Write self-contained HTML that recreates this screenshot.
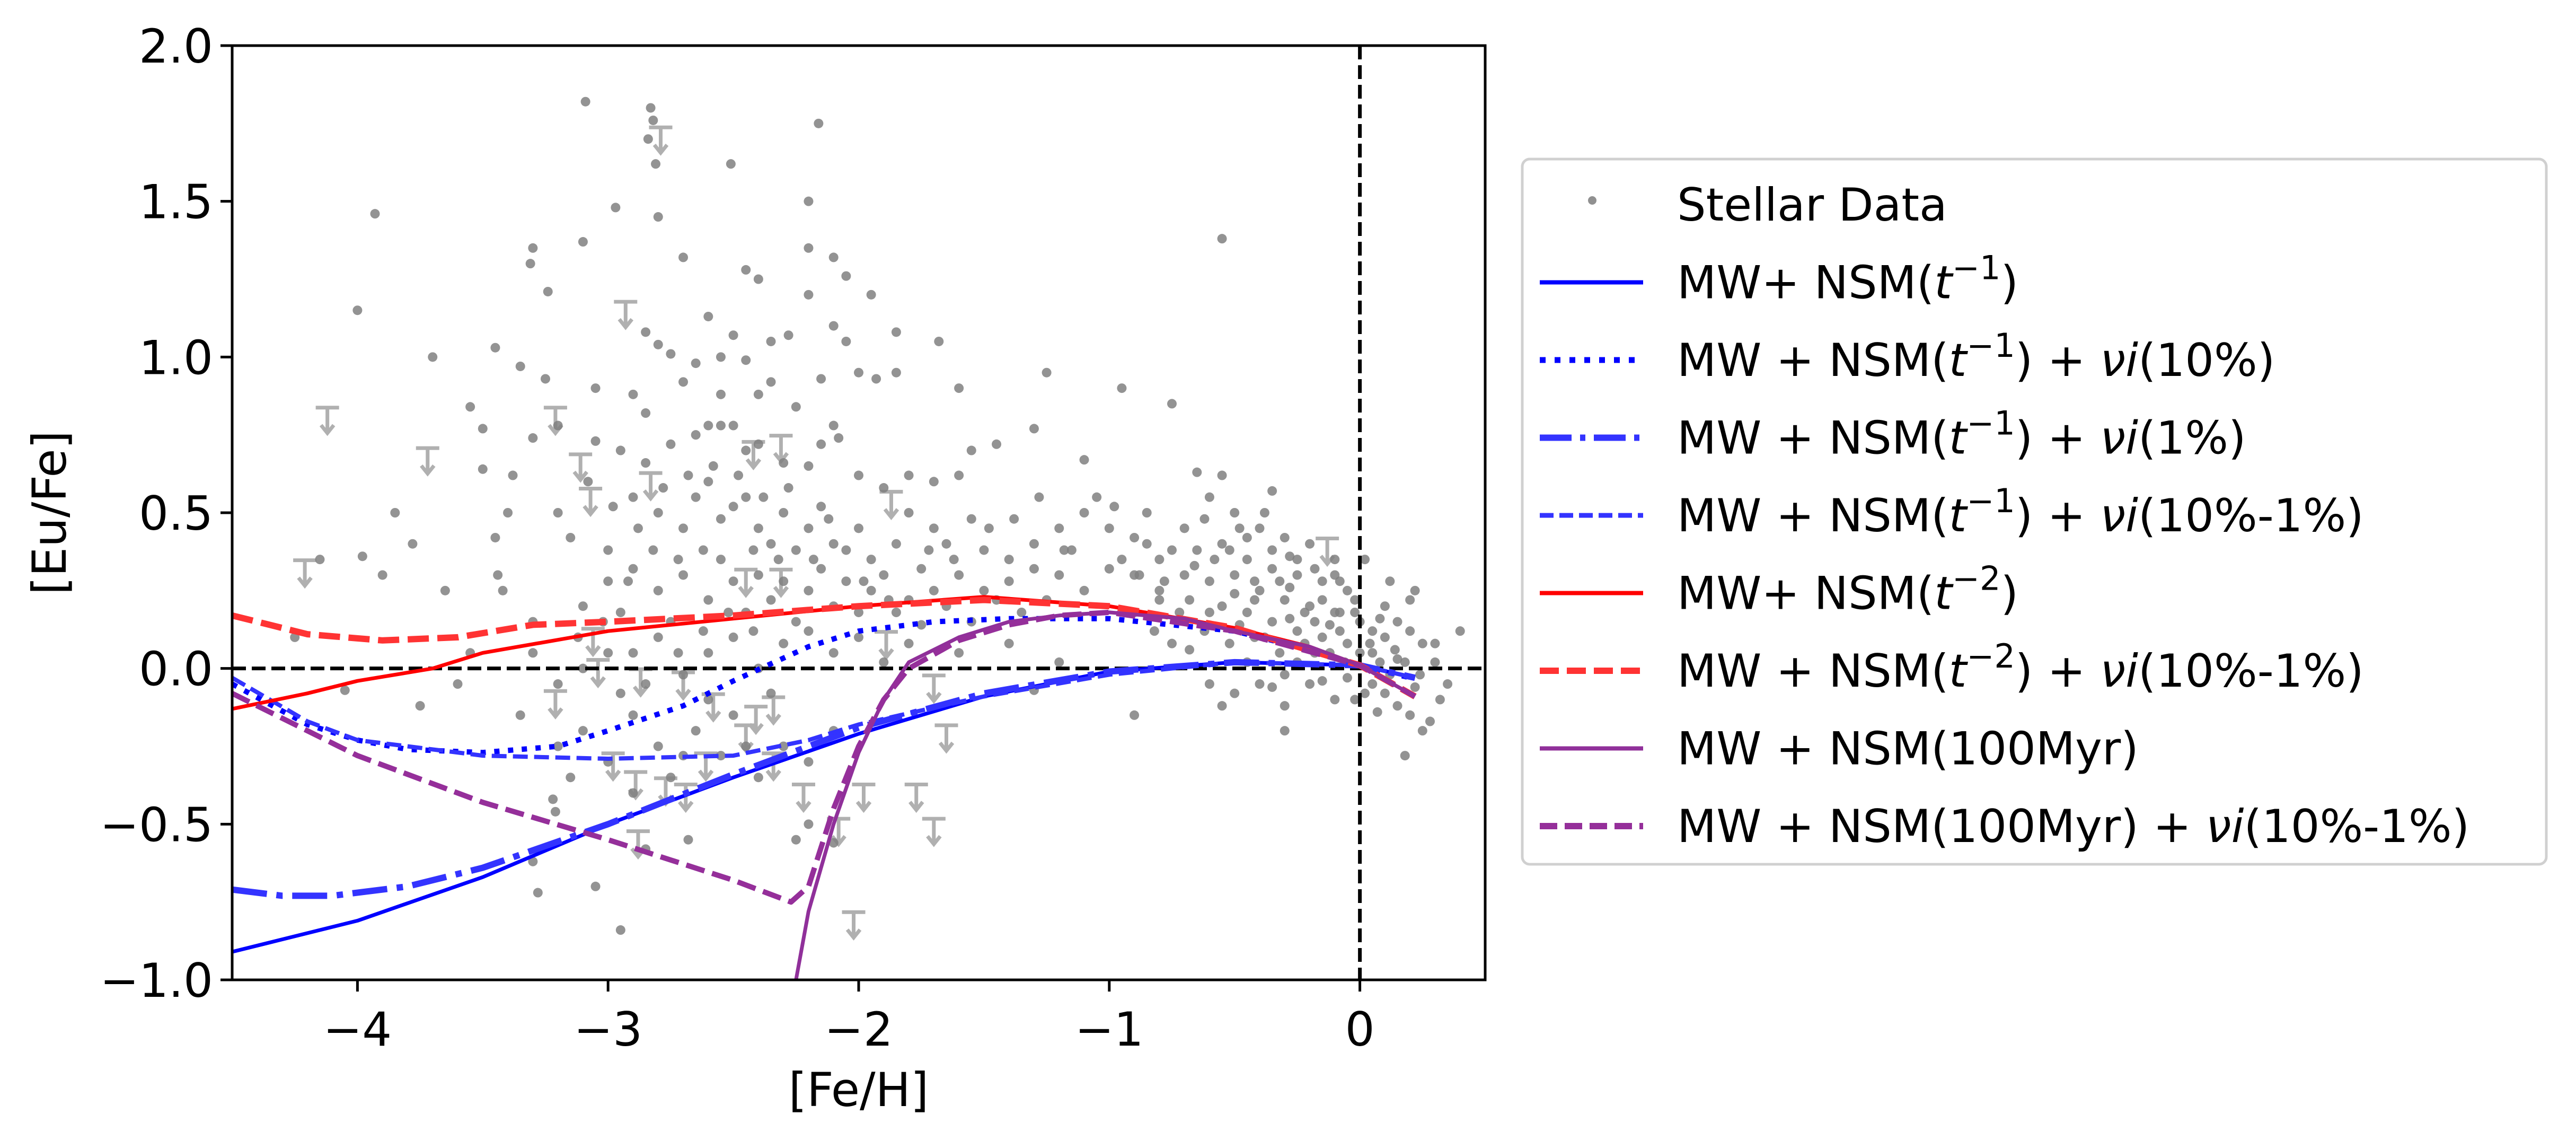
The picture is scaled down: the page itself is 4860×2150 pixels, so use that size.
<!DOCTYPE html>
<html><head><meta charset="utf-8"><style>
html,body{margin:0;padding:0;background:#fff}
svg{display:block;font-family:"DejaVu Sans","Liberation Sans",sans-serif}
</style></head><body>
<svg id="chart" width="4860" height="2150" viewBox="0 0 4860 2150" xmlns="http://www.w3.org/2000/svg">
<rect width="4860" height="2150" fill="#fff"/>
<g id="plot"></g>
<g id="axes"></g>
<g id="legend"></g>
</svg>
<script>
const xTicks = [-4, -3, -2, -1, 0];
const xTickLabels = ["\u22124", "\u22123", "\u22122", "\u22121", "0"];
const yTicks = [-1, -0.5, 0, 0.5, 1, 1.5, 2];
const yTickLabels = ["\u22121.0", "\u22120.5", "0.0", "0.5", "1.0", "1.5", "2.0"];

const stellarData = [
[-3.09,1.82],[-2.83,1.80],[-2.82,1.76],[-2.84,1.70],[-2.81,1.62],[-2.16,1.75],[-3.93,1.46],[-2.51,1.62],[-2.97,1.48],[-3.3,1.35],[-3.31,1.30],[-3.1,1.37],[-2.8,1.45],[-2.2,1.50],[-2.2,1.35],[-2.1,1.32],[-2.7,1.32],[-3.24,1.21],[-2.45,1.28],[-2.4,1.25],[-2.2,1.20],[-1.95,1.20],[-2.05,1.26],[-4.0,1.15],[-0.55,1.38],[-3.7,1.00],[-3.45,1.03],[-3.35,0.97],[-3.25,0.93],[-3.05,0.90],[-2.85,1.08],[-2.6,1.13],[-2.5,1.07],[-2.35,1.05],[-2.28,1.07],[-2.1,1.10],[-2.05,1.05],[-1.85,1.08],[-1.85,0.95],[-1.93,0.93],[-2.8,1.04],[-2.75,1.01],[-2.55,1.0],[-2.45,0.99],[-1.6,0.90],[-1.68,1.05],[-1.25,0.95],[-0.95,0.90],[-0.75,0.85],[-3.55,0.84],[-3.5,0.77],[-3.2,0.78],[-3.3,0.74],[-2.9,0.88],[-2.85,0.82],[-2.7,0.92],[-2.65,0.98],[-2.55,0.88],[-2.4,0.88],[-2.35,0.92],[-2.25,0.84],[-2.15,0.93],[-2.1,0.78],[-2.0,0.95],[-1.55,0.70],[-1.45,0.72],[-1.3,0.77],[-1.1,0.67],[-3.5,0.64],[-3.38,0.62],[-3.05,0.73],[-2.95,0.70],[-2.85,0.66],[-2.75,0.72],[-2.65,0.75],[-2.6,0.78],[-2.55,0.78],[-2.5,0.78],[-2.45,0.70],[-2.4,0.72],[-2.3,0.66],[-2.2,0.65],[-2.15,0.72],[-2.08,0.74],[-2.0,0.62],[-1.9,0.58],[-1.8,0.62],[-1.7,0.60],[-1.6,0.62],[-3.85,0.50],[-3.78,0.40],[-3.98,0.36],[-3.9,0.30],[-3.4,0.50],[-3.45,0.42],[-3.44,0.30],[-3.42,0.25],[-3.2,0.50],[-3.15,0.42],[-3.0,0.38],[-2.9,0.55],[-2.8,0.50],[-2.7,0.45],[-2.65,0.55],[-2.6,0.60],[-2.55,0.48],[-2.5,0.52],[-2.45,0.55],[-2.4,0.45],[-2.35,0.40],[-2.3,0.50],[-2.25,0.38],[-2.2,0.45],[-2.15,0.52],[-2.1,0.40],[-2.0,0.45],[-1.95,0.35],[-1.85,0.40],[-1.8,0.50],[-1.7,0.45],[-1.65,0.40],[-1.55,0.48],[-1.5,0.38],[-1.4,0.35],[-1.3,0.40],[-1.2,0.45],[-1.1,0.50],[-1.0,0.45],[-0.9,0.42],[-0.85,0.50],[-0.8,0.35],[-3.65,0.25],[-3.3,0.15],[-3.1,0.20],[-3.0,0.28],[-2.95,0.18],[-2.9,0.32],[-2.8,0.25],[-2.75,0.15],[-2.7,0.30],[-2.6,0.22],[-2.55,0.35],[-2.5,0.28],[-2.45,0.18],[-2.4,0.30],[-2.35,0.22],[-2.3,0.28],[-2.25,0.15],[-2.2,0.25],[-2.15,0.32],[-2.1,0.20],[-2.05,0.28],[-2.0,0.18],[-1.95,0.25],[-1.9,0.30],[-1.8,0.22],[-1.75,0.32],[-1.7,0.25],[-1.6,0.30],[-1.5,0.25],[-1.4,0.28],[-1.3,0.32],[-1.2,0.30],[-1.1,0.25],[-1.0,0.32],[-0.9,0.30],[-0.8,0.25],[-3.3,0.05],[-3.2,-0.05],[-3.1,0.0],[-2.95,-0.08],[-2.9,0.05],[-2.8,0.10],[-2.7,-0.02],[-2.6,0.05],[-2.5,0.10],[-2.4,0.0],[-2.3,0.08],[-2.2,0.12],[-2.1,0.05],[-2.0,0.10],[-1.9,0.02],[-1.8,0.08],[-1.6,0.05],[-1.4,0.08],[-1.2,0.02],[-3.35,-0.15],[-3.2,-0.25],[-3.1,-0.20],[-3.0,-0.30],[-2.9,-0.15],[-2.8,-0.25],[-2.75,-0.35],[-2.65,-0.20],[-2.55,-0.28],[-2.5,-0.15],[-2.4,-0.35],[-2.3,-0.25],[-2.2,-0.30],[-2.1,-0.20],[-3.22,-0.42],[-3.21,-0.46],[-3.3,-0.62],[-3.28,-0.72],[-3.05,-0.70],[-2.85,-0.58],[-2.95,-0.84],[-2.68,-0.55],[-2.25,-0.55],[-2.2,-0.50],[-2.1,-0.56],[-1.3,-0.07],[-0.9,-0.15],[-0.3,-0.20],[-3.6,-0.05],[-3.75,-0.12],[-4.05,-0.07],[-3.55,0.05],[-4.15,0.35],[-4.25,0.10],
[-0.65,0.63],[-0.55,0.62],[-0.35,0.57],[-0.6,0.55],[-0.5,0.50],[-0.4,0.45],[-0.3,0.42],[-0.2,0.40],[-0.1,0.35],[-0.7,0.45],[-0.65,0.38],[-0.55,0.40],[-0.45,0.35],[-0.35,0.32],[-0.25,0.30],[-0.15,0.28],[-0.05,0.25],[-0.7,0.30],[-0.6,0.28],[-0.5,0.30],[-0.4,0.25],[-0.3,0.22],[-0.2,0.20],[-0.1,0.18],[0.0,0.15],[-0.55,0.20],[-0.45,0.18],[-0.35,0.15],[-0.25,0.12],[-0.15,0.10],[-0.05,0.08],[0.05,0.05],[0.1,0.10],[0.15,0.03],[0.2,0.12],[0.25,0.08],[0.3,0.02],[0.35,-0.05],[0.4,0.12],[0.05,-0.05],[0.1,-0.08],[0.15,-0.12],[0.2,-0.15],[0.25,-0.20],[0.18,-0.28],[0.28,-0.17],[-0.05,-0.03],[-0.1,-0.10],[-0.2,-0.05],[-0.3,-0.02],[-0.4,-0.05],[-0.5,-0.08],[-0.6,-0.05],[-0.55,-0.12],[-0.3,-0.12],[0.02,0.35],[0.1,0.20],[0.2,0.22],[0.22,0.25],[0.12,0.28],[-0.25,0.35],[-0.1,0.30],[-0.02,0.22],[-0.15,0.22],[-0.08,0.12],[0.0,0.05],[-0.12,0.05],[-0.22,0.08],[-0.32,0.05],[-0.42,0.10],[-0.52,0.08],[-0.62,0.12],[-0.72,0.18],[-0.8,0.22],[-0.9,0.18],[-0.75,0.08],[-0.85,0.40],[-0.95,0.35],[-1.05,0.55],[-0.98,0.52],[-0.5,0.24],[-0.42,0.28],[-0.28,0.26],[-0.18,0.15],[-0.08,0.18],[0.05,0.12],[0.08,0.02],[0.15,0.15],[0.3,0.08],[-0.35,0.38],[-0.45,0.42],[-0.58,0.35],[-0.68,0.22],[-0.02,-0.1],[0.12,-0.02],[0.22,-0.06],[0.32,-0.1],
[-0.62,0.48],[-0.48,0.45],[-0.38,0.50],[-0.28,0.36],[-0.18,0.32],[-0.08,0.28],[-0.02,0.18],[-0.12,0.14],[-0.22,0.18],[-0.32,0.28],[-0.42,0.22],[-0.52,0.38],[-0.66,0.33],[-0.75,0.38],[-0.78,0.28],[-0.88,0.30],[-0.6,0.18],[-0.48,0.14],[-0.38,0.10],[-0.28,0.16],[-0.18,0.05],[-0.06,0.02],[0.04,0.08],[0.08,0.16],[0.14,0.06],[0.18,0.02],[0.24,-0.02],[0.02,-0.08],[0.07,-0.14],[-0.15,-0.04],[-0.25,0.02],[-0.35,-0.06],[-0.45,0.02],[-0.68,0.06],[-0.82,0.12],[-1.15,0.38],[-1.25,0.22],[-1.35,0.18],[-1.45,0.22],[-1.55,0.15],[-1.65,0.20],[-1.75,0.14],[-1.85,0.18],[-2.05,0.38],[-2.12,0.48],[-2.28,0.58],[-2.38,0.55],[-2.48,0.62],[-2.58,0.65],[-2.68,0.62],[-2.78,0.58],[-2.88,0.45],[-2.98,0.52],[-3.08,0.60],[-2.62,0.38],[-2.72,0.35],[-2.82,0.38],[-2.92,0.28],[-3.02,0.15],[-3.12,0.10],[-2.42,0.38],[-2.32,0.35],[-2.18,0.35],[-1.98,0.28],[-1.88,0.22],[-1.72,0.38],[-1.62,0.35],[-1.48,0.45],[-1.38,0.48],[-1.28,0.55],[-1.18,0.38],[-2.62,0.12],[-2.52,0.18],[-2.42,0.12],[-2.72,0.05],[-2.85,-0.05],[-3.0,0.05],[-2.35,-0.08],[-2.6,-0.10],[-2.45,-0.25],[-2.9,-0.40],[-2.7,-0.28],[-3.15,-0.35]
];

const upperLimits = [
[-4.12,0.80],[-3.72,0.67],[-4.21,0.31],[-3.21,0.80],[-3.11,0.65],[-3.07,0.54],[-2.93,1.14],[-2.79,1.70],[-2.83,0.59],[-2.42,0.69],[-2.31,0.71],[-1.87,0.53],[-0.13,0.38],[-3.06,0.09],[-3.04,-0.01],[-3.21,-0.11],[-2.87,-0.04],[-2.70,-0.05],[-2.58,-0.12],[-2.45,0.28],[-2.31,0.28],[-2.41,-0.16],[-2.34,-0.13],[-2.45,-0.22],[-1.89,0.08],[-1.70,-0.06],[-1.65,-0.22],[-2.98,-0.31],[-2.89,-0.37],[-2.77,-0.39],[-2.69,-0.41],[-2.61,-0.31],[-2.34,-0.31],[-2.22,-0.41],[-1.98,-0.41],[-1.77,-0.41],[-2.08,-0.52],[-1.70,-0.52],[-2.88,-0.56],[-2.02,-0.82]
];

const t1X = [-4.5,-4,-3.5,-3,-2.5,-2,-1.5,-1,-0.5,0,0.22];
const t1Y = [-0.91,-0.81,-0.67,-0.50,-0.35,-0.21,-0.09,-0.01,0.02,0.01,-0.03];
const t1nu10X = [-4.5,-4.2,-4,-3.8,-3.5,-3.2,-3,-2.7,-2.5,-2.2,-2,-1.7,-1.4,-1,-0.5,-0.2,0,0.2];
const t1nu10Y = [-0.05,-0.18,-0.23,-0.26,-0.27,-0.25,-0.20,-0.12,-0.04,0.07,0.12,0.15,0.16,0.16,0.12,0.06,0.01,-0.03];
const t1nu1X = [-4.5,-4.3,-4.1,-3.8,-3.5,-3,-2.5,-2,-1.5,-1,-0.5,0,0.22];
const t1nu1Y = [-0.71,-0.73,-0.73,-0.70,-0.64,-0.50,-0.34,-0.19,-0.08,-0.01,0.02,0.01,-0.03];
const t1nuMixX = [-4.5,-4.2,-4,-3.5,-3,-2.5,-2.2,-2,-1.5,-1,-0.5,0,0.22];
const t1nuMixY = [-0.03,-0.17,-0.23,-0.28,-0.29,-0.28,-0.23,-0.18,-0.09,-0.02,0.02,0.01,-0.03];
const t2X = [-4.5,-4.2,-4,-3.7,-3.5,-3,-2.5,-2,-1.5,-1,-0.5,-0.2,0,0.22];
const t2Y = [-0.13,-0.08,-0.04,0.00,0.05,0.12,0.16,0.20,0.23,0.20,0.13,0.07,0.01,-0.09];
const t2nuMixX = [-4.5,-4.2,-3.9,-3.6,-3.3,-3,-2.5,-2,-1.5,-1,-0.5,0,0.22];
const t2nuMixY = [0.17,0.11,0.09,0.10,0.14,0.15,0.17,0.20,0.22,0.20,0.13,0.01,-0.09];
const m100X = [-2.25,-2.2,-2.1,-2.0,-1.9,-1.8,-1.6,-1.4,-1.2,-1,-0.7,-0.5,-0.2,0,0.22];
const m100Y = [-1.0,-0.78,-0.50,-0.27,-0.10,0.02,0.10,0.15,0.17,0.18,0.16,0.12,0.07,0.01,-0.09];
const m100nuMixX = [-4.5,-4.2,-4,-3.5,-3,-2.5,-2.27,-2.2,-2.1,-2,-1.9,-1.8,-1.6,-1.4,-1.2,-1,-0.5,0,0.22];
const m100nuMixY = [-0.08,-0.20,-0.28,-0.43,-0.55,-0.68,-0.75,-0.70,-0.45,-0.25,-0.10,0.0,0.09,0.14,0.17,0.18,0.12,0.01,-0.09];

const X0=438, X1=2802, Y0=86, Y1=1848, XMIN=-4.5, XMAX=0.5, YMIN=-1, YMAX=2;
function sx(v){return X0+(v-XMIN)/(XMAX-XMIN)*(X1-X0);}
function sy(v){return Y1-(v-YMIN)/(YMAX-YMIN)*(Y1-Y0);}
const NS="http://www.w3.org/2000/svg";
function mk(tag, attrs, parent){const e=document.createElementNS(NS,tag);for(const k in attrs)e.setAttribute(k,attrs[k]);parent.appendChild(e);return e;}
const plot=document.getElementById('plot'), axes=document.getElementById('axes');

const defs=mk('defs',{},plot);
const cp=mk('clipPath',{id:'clip'},defs);
mk('rect',{x:X0,y:Y0,width:X1-X0,height:Y1-Y0},cp);
const inner=mk('g',{'clip-path':'url(#clip)'},plot);

upperLimits.forEach(p=>{
  const g=mk('g',{stroke:'#b0b0b0',fill:'none','stroke-width':7},inner);
  
  
  const x=sx(p[0]), y=sy(p[1]);
  mk('line',{x1:x-22,y1:y-22,x2:x+22,y2:y-22},g);
  mk('line',{x1:x,y1:y-22,x2:x,y2:y+24},g);
  mk('path',{d:`M${x-12} ${y+11} L${x} ${y+26} L${x+12} ${y+11}`},g);
});
stellarData.forEach(p=>{
  const c=mk('circle',{cx:sx(p[0]),cy:sy(p[1]),r:9,fill:'#808080','fill-opacity':0.85},inner);
  
  
});
const h=mk('line',{x1:X0,x2:X1,y1:sy(0),y2:sy(0),stroke:'#000','stroke-width':7,'stroke-dasharray':'26 11'},inner);


const v=mk('line',{x1:sx(0),x2:sx(0),y1:Y0,y2:Y1,stroke:'#000','stroke-width':7,'stroke-dasharray':'26 11'},inner);



const series=[
 {name:'mw-nsm-t1-line', xs:t1X, ys:t1Y, color:'#0000ff', w:7, dash:''},
 {name:'mw-nsm-t1-nu10-line', xs:t1nu10X, ys:t1nu10Y, color:'#0000ff', w:10, dash:'10 16'},
 {name:'mw-nsm-t1-nu1-line', xs:t1nu1X, ys:t1nu1Y, color:'#3333ff', w:12, dash:'66 18 12 18'},
 {name:'mw-nsm-t1-numix-line', xs:t1nuMixX, ys:t1nuMixY, color:'#3333ff', w:8, dash:'28 12'},
 {name:'mw-nsm-t2-line', xs:t2X, ys:t2Y, color:'#ff0000', w:7, dash:''},
 {name:'mw-nsm-t2-numix-line', xs:t2nuMixX, ys:t2nuMixY, color:'#ff3333', w:12, dash:'40 16'},
 {name:'mw-nsm-100myr-line', xs:m100X, ys:m100Y, color:'#90309a', w:7, dash:''},
 {name:'mw-nsm-100myr-numix-line', xs:m100nuMixX, ys:m100nuMixY, color:'#952f9a', w:10, dash:'36 15'}
];
series.forEach(s=>{
  const d=s.xs.map((x,i)=>(i?'L':'M')+sx(x).toFixed(1)+' '+sy(s.ys[i]).toFixed(1)).join(' ');
  const p=mk('path',{d:d,fill:'none',stroke:s.color,'stroke-width':s.w,'stroke-dasharray':s.dash,'stroke-linejoin':'round'},inner);
  
  
});

const fr=mk('rect',{x:X0,y:Y0,width:X1-X0,height:Y1-Y0,fill:'none',stroke:'#000','stroke-width':5},axes);


xTicks.forEach((t,i)=>{
  mk('line',{x1:sx(t),x2:sx(t),y1:Y1,y2:Y1+22,stroke:'#000','stroke-width':5},axes);
  const tx=mk('text',{x:sx(t),y:Y1+124,'font-size':88,'text-anchor':'middle',fill:'#000'},axes);
  tx.textContent=xTickLabels[i];
  
  
});
yTicks.forEach((t,i)=>{
  mk('line',{x1:X0-22,x2:X0,y1:sy(t),y2:sy(t),stroke:'#000','stroke-width':5},axes);
  const tx=mk('text',{x:X0-36,y:sy(t)+32,'font-size':88,'text-anchor':'end',fill:'#000'},axes);
  tx.textContent=yTickLabels[i];
  
  
});
const xl=mk('text',{x:(X0+X1)/2,y:2086,'font-size':88,'text-anchor':'middle',fill:'#000'},axes);
xl.textContent='[Fe/H]';


const yl=mk('text',{x:0,y:0,'font-size':88,'text-anchor':'middle',fill:'#000',transform:`translate(124 ${(Y0+Y1)/2}) rotate(-90)`},axes);
yl.textContent='[Eu/Fe]';


</script>
<script>
(function(){
const NS="http://www.w3.org/2000/svg";
const lg=document.getElementById('legend');
function mk(tag, attrs, parent){const e=document.createElementNS(NS,tag);for(const k in attrs)e.setAttribute(k,attrs[k]);parent.appendChild(e);return e;}
const box=mk('rect',{x:2872,y:300,width:1932,height:1330,rx:14,fill:'#fff',stroke:'#d0d0d0','stroke-width':5},lg);


const sup=(s)=>'<tspan dy="-36" font-size="62">'+s+'</tspan><tspan dy="36">)</tspan>';
const it=(s)=>'<tspan font-style="italic">'+s+'</tspan>';
const rows=[
 {k:'dot', html:'Stellar Data'},
 {k:'line',c:'#0000ff',w:8,d:'',html:'MW+ NSM('+it('t')+sup('\u22121')},
 {k:'line',c:'#0000ff',w:11,d:'11 17',html:'MW + NSM('+it('t')+sup('\u22121')+' + '+it('\u03bdi')+'(10%)'},
 {k:'line',c:'#3333ff',w:12,d:'60 16 10 16',html:'MW + NSM('+it('t')+sup('\u22121')+' + '+it('\u03bdi')+'(1%)'},
 {k:'line',c:'#3333ff',w:9,d:'26 11',html:'MW + NSM('+it('t')+sup('\u22121')+' + '+it('\u03bdi')+'(10%-1%)'},
 {k:'line',c:'#ff0000',w:8,d:'',html:'MW+ NSM('+it('t')+sup('\u22122')},
 {k:'line',c:'#ff3333',w:12,d:'36 15',html:'MW + NSM('+it('t')+sup('\u22122')+' + '+it('\u03bdi')+'(10%-1%)'},
 {k:'line',c:'#90309a',w:8,d:'',html:'MW + NSM(100Myr)'},
 {k:'line',c:'#952f9a',w:12,d:'33 14',html:'MW + NSM(100Myr) + '+it('\u03bdi')+'(10%-1%)'}
];
rows.forEach((r,i)=>{
  const y=386+i*146.5;
  const g=mk('g',{},lg);
  
  
  if(r.k==='dot') mk('circle',{cx:3004,cy:y-8,r:8,fill:'#909090'},g);
  else mk('line',{x1:2905,x2:3100,y1:y,y2:y,stroke:r.c,'stroke-width':r.w,'stroke-dasharray':r.d},g);
  const t=mk('text',{x:3164,y:y+30,'font-size':86,fill:'#000'},g);
  t.innerHTML=r.html;
});
})();
</script>
</body></html>
